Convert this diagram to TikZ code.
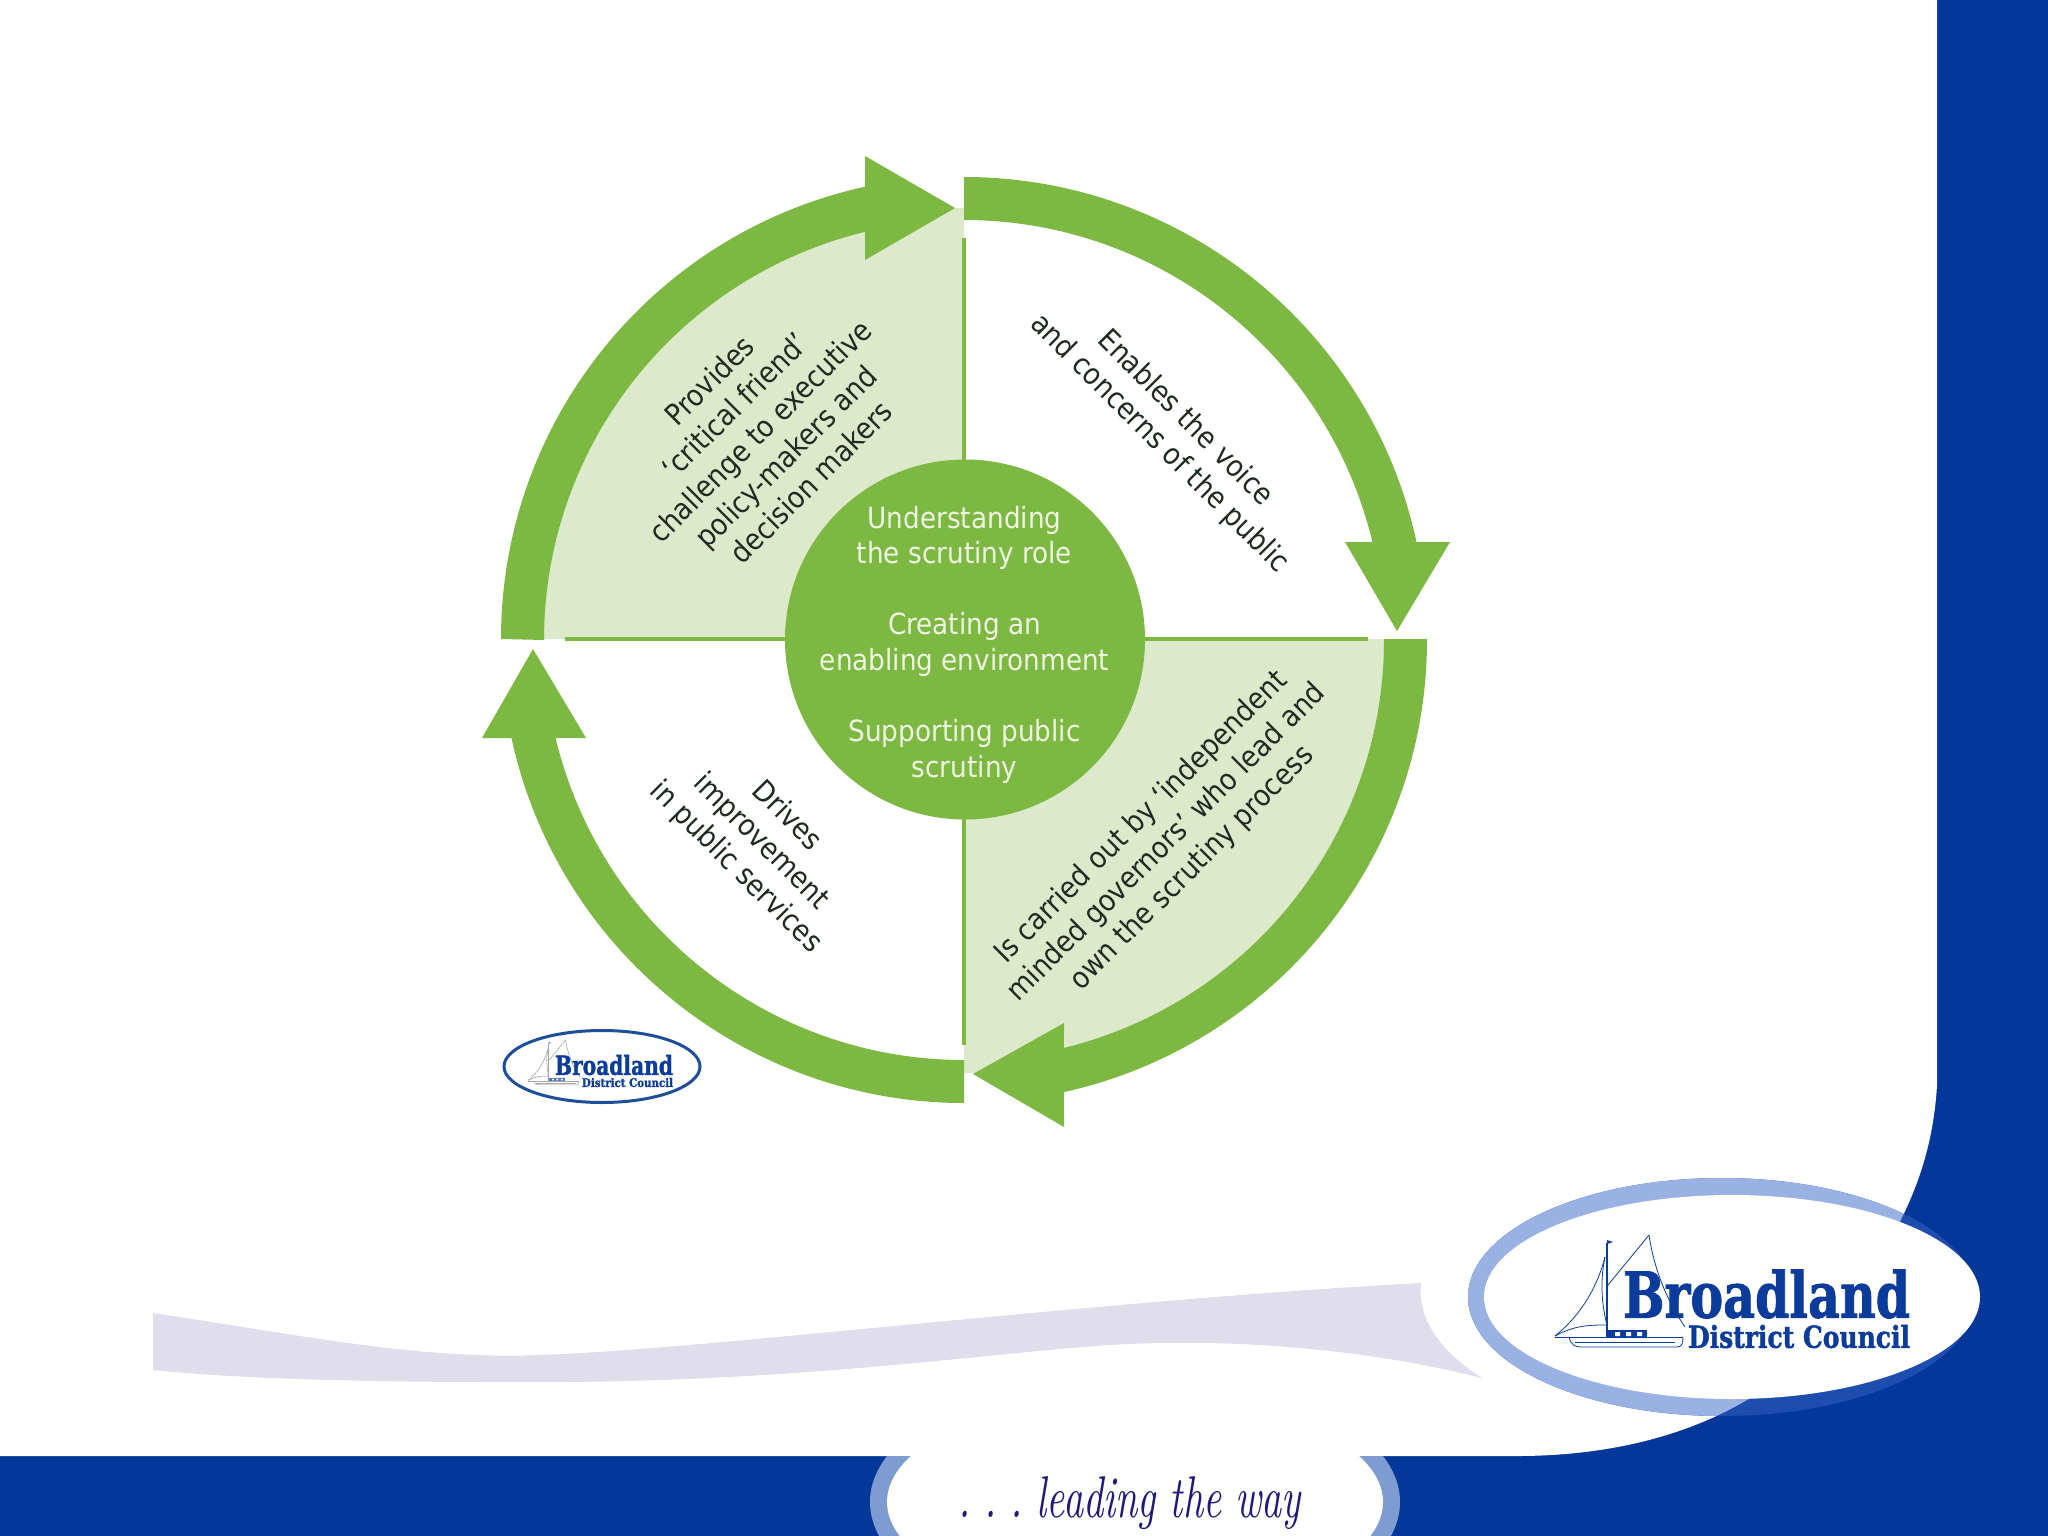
\documentclass[tikz,border=0pt]{standalone}
\usepackage{fontspec}
\newfontfamily\tah[FakeStretch=0.9]{DejaVu Sans}
\newfontfamily\slab[BoldFeatures={FakeBold=1.5}]{DejaVu Serif}
\definecolor{navy}{HTML}{03389A}
\definecolor{ringlight}{HTML}{9AB1E3}
\definecolor{ringdark}{HTML}{1E4DB0}
\definecolor{pillring}{HTML}{7F9CD0}
\definecolor{swoosh}{HTML}{E0DEEC}
\definecolor{grn}{HTML}{7DB843}
\definecolor{grnlight}{HTML}{DDE9CB}
\definecolor{inktext}{HTML}{1F2A20}
\definecolor{centertext}{HTML}{EEF5E2}
\definecolor{script}{HTML}{1F1A7A}
\definecolor{logoblue}{HTML}{0B3C9C}
\definecolor{smallring}{HTML}{1F4F9B}
\tikzset{
 rotlabel/.style={font=\tah\fontsize{29.4}{36}\selectfont,text=inktext,align=center,inner sep=0pt},
 centerlabel/.style={font=\tah\fontsize{29.2}{35.5}\selectfont,text=centertext,align=center,inner sep=0pt},
 spoke/.style={draw=grn,line width=4pt},
 boatline/.style={draw=logoblue,line width=0.8pt},
 boatmast/.style={draw=logoblue,line width=2.4pt},
 boatfill/.style={fill=logoblue},
 boat/.pic={
  \draw[boatline] (50,22) .. controls (40,60) and (20,85) .. (0,101);
  \draw[boatline] (0,101) .. controls (20,90) and (35,90) .. (52,90);
  \draw[boatline] (50,22) .. controls (44,50) and (48,75) .. (52,90);
  \draw[boatline] (94,0) -- (53,50);
  \draw[boatline] (94,0) .. controls (100,40) and (115,70) .. (130,92);
  \draw[boatmast] (52,8) -- (52,102);
  \fill[boatfill] (52,5) -- (58,7) -- (52,9) -- cycle;
  \draw[boatline] (0,102) -- (128,102);
  \draw[boatline] (14,102) .. controls (16,110) and (20,112) .. (26,112) -- (122,112) .. controls (127,112) and (128,108) .. (128,102);
  \draw[boatline] (20,107) -- (120,107);
  \fill[boatfill] (53,95) rectangle (92,103);
  \fill[white] (60,97) rectangle (65,101) (71,97) rectangle (76,101) (82,97) rectangle (87,101);
 }
}
\begin{document}
\begin{tikzpicture}[x=1pt,y=-1pt]
\useasboundingbox (0,0) rectangle (2048,1536);
% background
\fill[navy] (0,0) rectangle (2048,1536);
\def\whitepath{(0,0) -- (1937,0) -- (1937,1085) .. controls (1932,1170) and (1900,1235) .. (1843,1310) .. controls (1795,1385) and (1690,1455) .. (1520,1456) -- (0,1456) -- cycle}
\fill[white] \whitepath;
% swoosh
\fill[swoosh] (153,1313) .. controls (300,1335) and (420,1360) .. (540,1355)
  .. controls (700,1350) and (1100,1300) .. (1421,1283)
  .. controls (1418,1310) and (1430,1345) .. (1482,1378)
  .. controls (1350,1345) and (1220,1340) .. (1129,1344)
  .. controls (1000,1350) and (800,1385) .. (495,1382)
  .. controls (350,1382) and (230,1378) .. (153,1370) -- cycle;
% large oval
\fill[ringdark] (1722,1297) ellipse [x radius=254pt,y radius=119pt];
\begin{scope}
 \clip \whitepath;
 \fill[ringlight] (1722,1297) ellipse [x radius=254pt,y radius=119pt];
\end{scope}
\fill[white] (1732,1297) ellipse [x radius=248pt,y radius=102pt];
\pic at (1555,1235) {boat};
\node[inner sep=0pt,text=logoblue,font=\slab\bfseries] (bigname) at (1766.5,1294) {\resizebox{287pt}{48pt}{Broadland}};
\node[inner sep=0pt,text=logoblue,font=\slab\bfseries] (bigdistrict) at (1799,1336.5) {\resizebox{222pt}{23pt}{District Council}};
% bottom pill
\begin{scope}
 \clip (800,1456) rectangle (1480,1536);
 \fill[pillring] (1135,1502) ellipse [x radius=265pt,y radius=130pt];
 \fill[white] (1135,1502) ellipse [x radius=248pt,y radius=107pt];
\end{scope}
\node[inner sep=0pt,text=script,font=\itshape] (motto) at (1129.5,1503.5) {\resizebox*{343pt}{53pt}{.\ .\ .\ leading the way}};
% ring sectors
\begin{scope}[x=1pt,y=1pt,shift={(964pt,-640pt)}]
 \fill[grnlight] (-431,1) arc[start angle=180,end angle=90,radius=431pt] -- (0,1) -- cycle;
 \fill[grnlight] (434,1) arc[start angle=0,end angle=-90,radius=434pt] -- (0,1) -- cycle;
\end{scope}
% spokes and hub
\coordinate (spokeN) at (964,238);
\coordinate (spokeS) at (964,1045);
\coordinate (spokeW) at (565,639);
\coordinate (spokeE) at (1368,639);
\coordinate (hubC) at (965,639.5);
\draw[spoke] (hubC -| spokeN) -- (spokeN);
\draw[spoke] (hubC -| spokeS) -- (spokeS);
\draw[spoke] (hubC |- spokeW) -- (spokeW);
\draw[spoke] (hubC |- spokeE) -- (spokeE);
\node[circle,fill=grn,minimum size=360pt,inner sep=0pt] (hub) at (hubC) {};
% ring arrows
\begin{scope}[x=1pt,y=1pt,shift={(964pt,-640pt)}]
 \fill[grn] (-463,1) arc[start angle=180,end angle=102.35,radius=463pt]
   -- (-99,484) -- (-9,432) -- (-99,380) -- (103.63:420pt)
   arc[start angle=103.63,end angle=180,radius=420pt] -- cycle;
 \fill[grn] (90:463pt) arc[start angle=90,end angle=12.22,radius=463pt]
   -- (486,98) -- (433,9) -- (381,98) -- (13.49:420pt)
   arc[start angle=13.49,end angle=90,radius=420pt] -- cycle;
 \fill[grn] (463,1) -- (0:463pt) arc[start angle=0,end angle=-77.53,radius=463pt]
   -- (100,-487) -- (9,-434) -- (100,-383) -- (-76.23:420pt)
   arc[start angle=-76.23,end angle=0,radius=420pt] -- (420,1) -- cycle;
 \fill[grn] (270:463pt) arc[start angle=270,end angle=192.22,radius=463pt]
   -- (-482,-98) -- (-431,-9) -- (-378,-98) -- (193.49:420pt)
   arc[start angle=193.49,end angle=270,radius=420pt] -- cycle;
\end{scope}
% hub text
\node[centerlabel] (hubA) at (964.5,538) {Understanding\\the scrutiny role};
\node[centerlabel] (hubB) at (964.5,644.5) {Creating an\\enabling environment};
\node[centerlabel] (hubC2) at (964.5,751.5) {Supporting public\\scrutiny};
% rotated texts
\node[rotlabel,rotate=45] (txtNW) at (760,431) {Provides\\‘critical friend’\\challenge to executive\\policy-makers and\\decision makers};
\node[rotlabel,rotate=-45] (txtNE) at (1172,431) {Enables the voice\\and concerns of the public};
\node[rotlabel,rotate=-45] (txtSW) at (761,842) {Drives\\improvement\\in public services};
\node[rotlabel,rotate=45] (txtSE) at (1167,843) {Is carried out by ‘independent\\minded governors’ who lead and\\own the scrutiny process};
% small logo
\draw[smallring,line width=3pt,fill=white] (602,1066.5) ellipse [x radius=98pt,y radius=36pt];
\begin{scope}
 \tikzset{boatline/.style={draw=gray!70,line width=0.6pt},boatmast/.style={draw=gray!70,line width=1pt},boatfill/.style={fill=logoblue!70}}
 \pic[scale=0.4] at (528,1040) {boat};
\end{scope}
\node[inner sep=0pt,text=logoblue,font=\slab\bfseries] (smallname) at (614,1065) {\resizebox{118pt}{20pt}{Broadland}};
\node[inner sep=0pt,text=logoblue,font=\slab\bfseries] (smalldistrict) at (627.5,1082.5) {\resizebox{91pt}{9pt}{District Council}};
\end{tikzpicture}
\end{document}
